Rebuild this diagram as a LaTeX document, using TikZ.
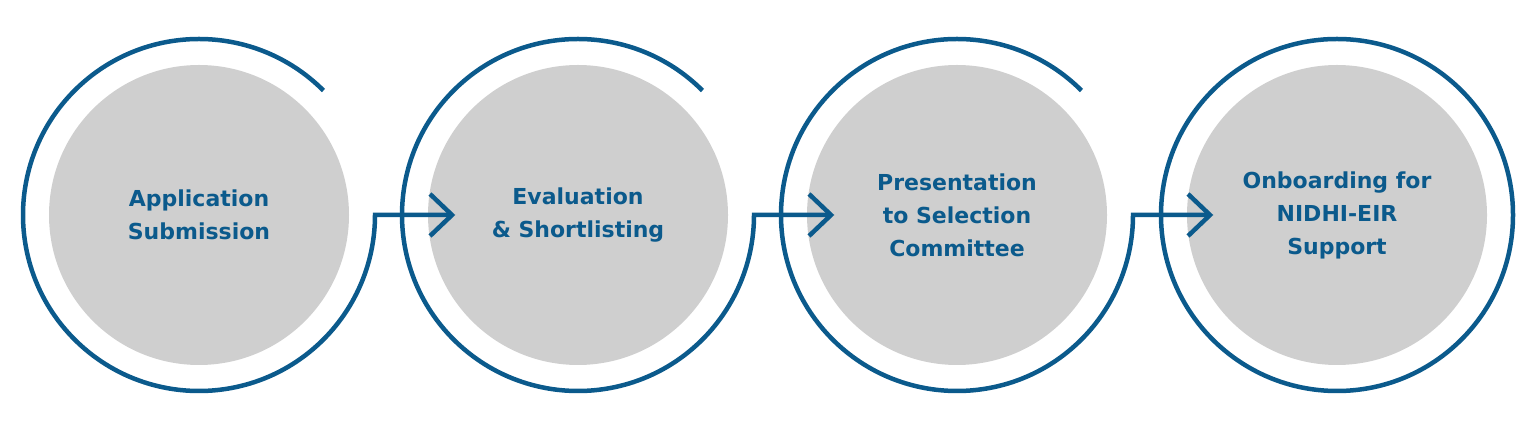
\documentclass[tikz,border=0pt]{standalone}
\usepackage{fontspec}
\setmainfont{DejaVu Sans}
\begin{document}
\definecolor{cblue}{HTML}{0B5A8C}
\definecolor{cgrey}{HTML}{CFCFCF}
\begin{tikzpicture}[x=1pt,y=1pt,
  disc/.style={circle,fill=cgrey,minimum size=300pt,inner sep=0pt,font=\fontsize{22}{33}\selectfont\bfseries,text=cblue,align=center},
  ring/.style={draw=cblue,line width=4.5pt},
  chev/.style={draw=cblue,line width=4.5pt,line cap=butt}]
\useasboundingbox (0,0) rectangle (1536,430);
\foreach \i/\x in {1/199,2/578,3/957,4/1337}{
  \coordinate (c\i) at (\x,215);
}
\node[disc] (s1) at (c1) {Application\\Submission};
\node[disc] (s2) at (c2) {Evaluation\\\& Shortlisting};
\node[disc] (s3) at (c3) {Presentation\\to Selection\\Committee};
\node[disc] (s4) at (c4) {Onboarding for\\NIDHI-EIR\\Support};
\foreach \i/\j in {1/2,2/3,3/4}{
  \coordinate (t\i) at ([xshift=253pt]c\i);
  \draw[ring] ([shift={(45:176)}]c\i) arc[start angle=45,end angle=360,radius=176] -- (t\i);
  \draw[chev] ([shift={(-22,21)}]t\i) -- (t\i) -- ([shift={(-22,-21)}]t\i);
}
\draw[ring] (c4) circle[radius=176];
\end{tikzpicture}
\end{document}
